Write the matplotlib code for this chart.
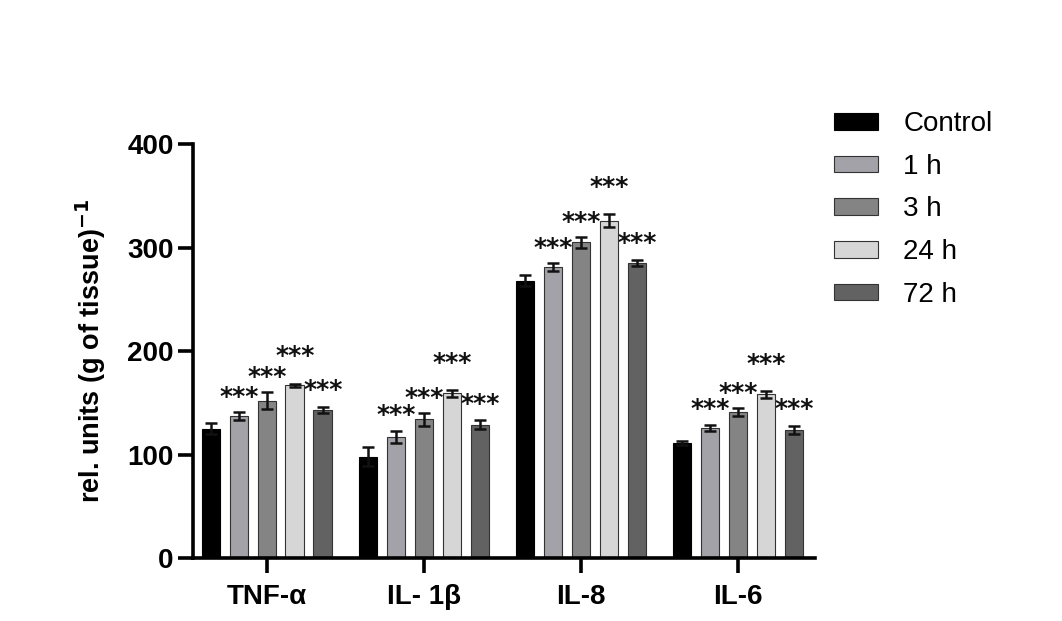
import numpy as np
import matplotlib
matplotlib.use("Agg")
import matplotlib.pyplot as plt

plt.rcParams['font.family'] = ['Liberation Sans', 'DejaVu Sans']

categories = ["TNF-α", "IL- 1β", "IL-8", "IL-6"]
series = ["Control", "1 h", "3 h", "24 h", "72 h"]
values = {
    "Control": [125, 98, 268, 111],
    "1 h":     [137, 117, 281, 126],
    "3 h":     [152, 134, 305, 141],
    "24 h":    [167, 159, 326, 158],
    "72 h":    [143, 129, 285, 124],
}
errors = {
    "Control": [5, 9, 5, 2],
    "1 h":     [4, 6, 4, 3],
    "3 h":     [8, 6, 5, 4],
    "24 h":    [1.5, 3, 6, 3],
    "72 h":    [3, 4, 3, 4],
}
significance = {
    "Control": ["", "", "", ""],
    "1 h":     ["***", "***", "***", "***"],
    "3 h":     ["***", "***", "***", "***"],
    "24 h":    ["***", "***", "***", "***"],
    "72 h":    ["***", "***", "***", "***"],
}
colors = {
    "Control": "#000000",
    "1 h": "#a2a2a8",
    "3 h": "#848484",
    "24 h": "#d6d6d6",
    "72 h": "#626262",
}
star_offset_pts = {"1 h": 11, "3 h": 11, "24 h": 20, "72 h": 12}

fig = plt.figure(figsize=(10.62, 6.21), dpi=100)
ax = fig.add_axes([0.1817, 0.1014, 0.5857, 0.6667])

x = np.arange(len(categories))
step = 0.178
width = 0.118
n = len(series)
for i, s in enumerate(series):
    pos = x + (i - (n - 1) / 2) * step
    ax.bar(pos, values[s], width, color=colors[s],
           edgecolor="#333333" if s != "Control" else "#000000",
           linewidth=0.8, label=s, zorder=2)
    ax.errorbar(pos, values[s], yerr=errors[s], fmt="none", ecolor="#111111",
                elinewidth=1.8, capsize=4, capthick=1.8, zorder=3)
    for j, p in enumerate(pos):
        txt = significance[s][j]
        if txt:
            ax.annotate(txt, (p, values[s][j] + errors[s][j]),
                        xytext=(0, star_offset_pts[s]), textcoords="offset points",
                        ha="center", va="center", fontsize=18,
                        family="DejaVu Sans", fontweight="bold", color="#111111")

ax.set_ylim(0, 400)
ax.set_xlim(-0.47, 3.49)
ax.set_yticks([0, 100, 200, 300, 400])
ax.set_xticks(x)
ax.set_xticklabels(categories)

for sp in ["top", "right"]:
    ax.spines[sp].set_visible(False)
for sp in ["left", "bottom"]:
    ax.spines[sp].set_linewidth(2.6)
ax.tick_params(axis="both", width=2.6, length=11)
ax.tick_params(axis="x", pad=8, labelsize=20)
ax.tick_params(axis="y", pad=3, labelsize=20)
for lab in ax.get_xticklabels() + ax.get_yticklabels():
    lab.set_fontweight("bold")

ax.set_ylabel("rel. units (g of tissue)$^{\\mathbf{-1}}$", fontsize=19.5,
              fontweight="bold", labelpad=14)

leg = ax.legend(loc="upper left", bbox_to_anchor=(0.99, 1.14), frameon=False,
                fontsize=20, handlelength=1.6, handleheight=0.55,
                labelspacing=0.6, handletextpad=0.9)

fig.savefig("out.png", dpi=100)
